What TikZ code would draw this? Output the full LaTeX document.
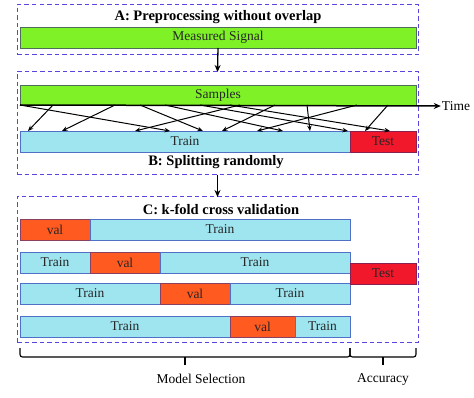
\documentclass[tikz,border=0pt]{standalone}
\usepackage{fontspec}
\setmainfont{Liberation Serif}
\usetikzlibrary{arrows.meta,calc}
\definecolor{sigGreen}{HTML}{7EF226}
\definecolor{sigBorder}{HTML}{4E6E5A}
\definecolor{trainBlue}{HTML}{9EE5F0}
\definecolor{trainBorder}{HTML}{5070C8}
\definecolor{valOrange}{HTML}{FF5A20}
\definecolor{valBorder}{HTML}{8A4060}
\definecolor{testRed}{HTML}{F0182A}
\definecolor{testBorder}{HTML}{8A2050}
\definecolor{dashBlue}{HTML}{5A45E0}
\tikzset{
  bar/.style={draw, line width=0.9pt, minimum height=21pt, inner sep=0pt, outer sep=0pt,
    anchor=north west, font=\fontsize{13.5}{13.5}\selectfont, text=black!85},
  gbar/.style={bar, fill=sigGreen, draw=sigBorder},
  tbar/.style={bar, fill=trainBlue, draw=trainBorder},
  vbar/.style={bar, fill=valOrange, draw=valBorder},
  rbar/.style={bar, fill=testRed, draw=testBorder},
  dbox/.style={draw=dashBlue, line width=1pt, dash pattern=on 4.5pt off 3pt, inner sep=0pt,
    outer sep=0pt, anchor=north west},
  boxtitle/.style={font=\bfseries\fontsize{14.5}{14.5}\selectfont, inner sep=0pt},
  plain/.style={font=\fontsize{13.5}{13.5}\selectfont, inner sep=1pt},
  conn/.style={line width=1.3pt, -{Stealth[length=7pt,width=6pt]}},
  split/.style={line width=1pt, -{Stealth[length=5.5pt,width=4.5pt]}},
  axis/.style={line width=1.5pt, -{Stealth[length=7pt,width=6pt]}},
  bracestyle/.style={line width=1.1pt, rounded corners=2.5pt}
}
\begin{document}
\begin{tikzpicture}[x=1pt,y=-1pt]
\useasboundingbox (0,0) rectangle (474,398);
% Box A
\node[dbox, minimum width=401pt, minimum height=50pt] (boxA) at (17,5) {};
\node[boxtitle] (tA) at (218,17) {A: Preprocessing without overlap};
\node[gbar, minimum width=396pt] (ms) at (20,27) {Measured Signal};
% Box B
\node[dbox, minimum width=401pt, minimum height=103pt] (boxB) at (17,72) {};
\node[gbar, minimum width=396pt, minimum height=20pt] (samples) at (20,85) {Samples};
\node[tbar, minimum width=330pt] (trainB) at (20,131) {Train};
\node[rbar, minimum width=66pt] (testB) at (350,131) {Test};
\node[boxtitle] (tB) at (216,162) {B: Splitting randomly};
\node[plain] (time) at (456,106) {Time};
\draw[axis] (samples.south west) -- (time.west);
\foreach \a/\b in {0/150, 33/8, 95/42, 120/183, 145/263, 220/115, 255/202, 287/290,
                   337/237, 368/345, 180/328, 210/370}
  \draw[split] ([xshift=\a pt]samples.south west) -- ([xshift=\b pt]trainB.north west);
\draw[conn] (ms.south) -- (boxB.north);
% Box C
\node[dbox, minimum width=401pt, minimum height=145pt] (boxC) at (17,197) {};
\draw[conn] (boxB.south) -- (boxC.north);
\node[boxtitle] (tC) at (221,209) {C: k-fold cross validation};
% row 1
\node[vbar, minimum width=70pt] (v1) at (20,219) {val};
\node[tbar, minimum width=260pt] (t1a) at (90,219) {Train};
% row 2
\node[tbar, minimum width=70pt] (t2a) at (20,252) {Train};
\node[vbar, minimum width=70pt] (v2) at (90,252) {val};
\node[tbar, minimum width=190pt] (t2b) at (160,252) {Train};
% row 3
\node[tbar, minimum width=140pt] (t3a) at (20,283) {Train};
\node[vbar, minimum width=70pt] (v3) at (160,283) {val};
\node[tbar, minimum width=120pt] (t3b) at (230,283) {Train};
% row 4
\node[tbar, minimum width=210pt] (t4a) at (20,316) {Train};
\node[vbar, minimum width=65pt] (v4) at (230,316) {val};
\node[tbar, minimum width=55pt] (t4b) at (295,316) {Train};
% test
\node[rbar, minimum width=66pt] (testC) at (350,263) {Test};
% braces
\coordinate (b1) at (20,348);
\coordinate (b2) at (350,348);
\coordinate (b3) at (416,348);
\coordinate (m1) at (185,357);
\coordinate (m2) at (383,357);
\draw[bracestyle] (b1) |- (m1) -| (b2);
\draw[bracestyle] (b2) |- (m2) -| (b3);
\draw[line width=1.3pt] (m1) -- ++(0,8);
\draw[line width=1.3pt] (m2) -- ++(0,8);
\node[plain] (lms) at (201,379) {Model Selection};
\node[plain] (lacc) at (383,379) {Accuracy};
\end{tikzpicture}
\end{document}
